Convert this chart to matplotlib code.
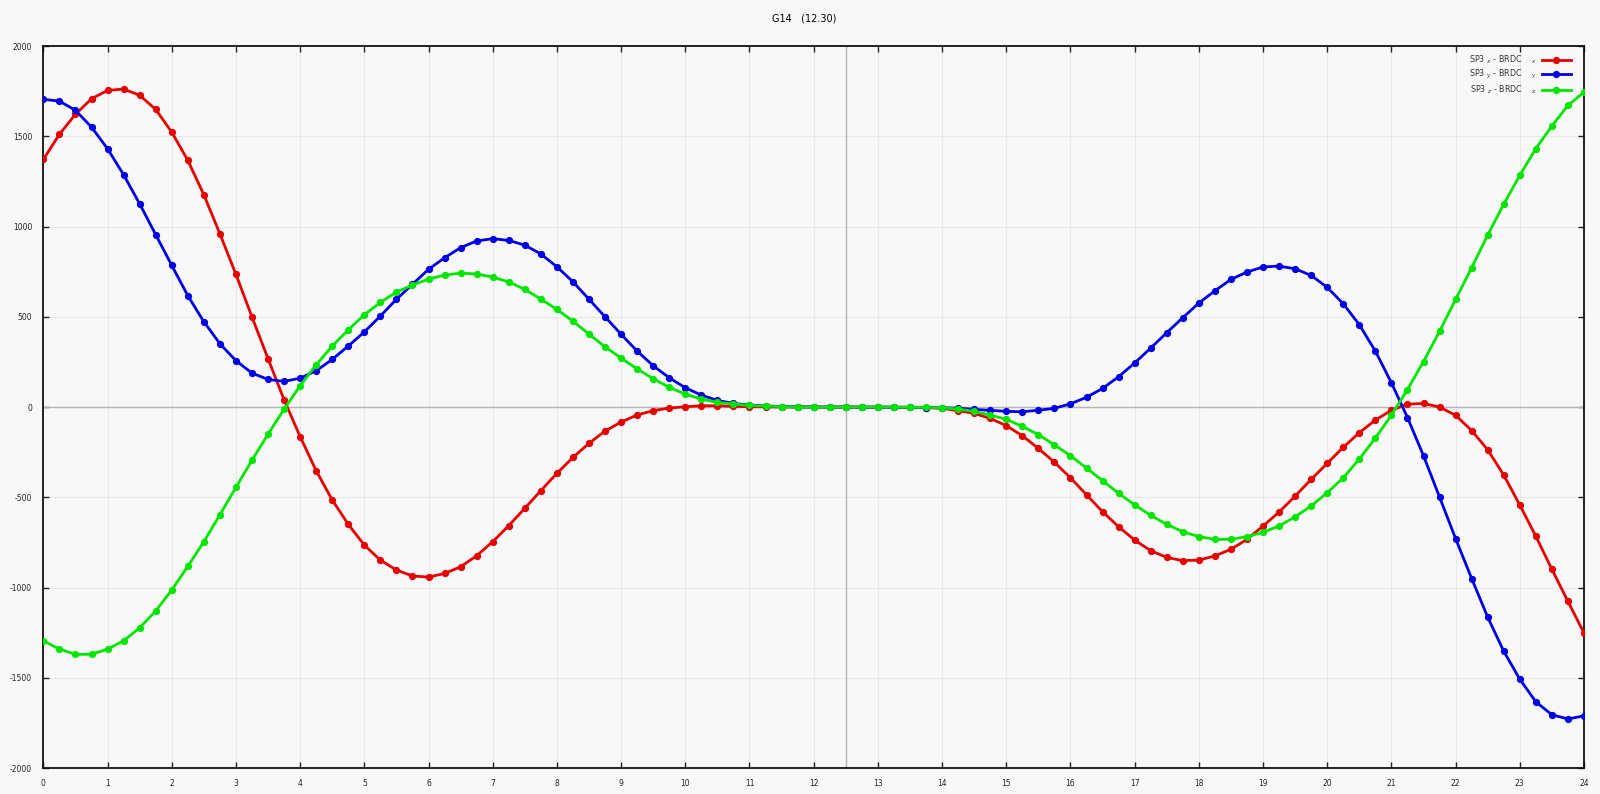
import numpy as np
import matplotlib
matplotlib.use("Agg")
import matplotlib.pyplot as plt

plt.rcParams["axes.unicode_minus"] = False

# hours of day, sampled every 15 min
hours = np.arange(0, 24.01, 0.25)

# SP3 - BRDC differences (m)
dx = [1372, 1511, 1622, 1708, 1754, 1762, 1727, 1649, 1523, 1367, 1176, 960,
      735, 499, 268, 40, -164, -353, -515, -650, -765, -848, -903, -936,
      -942, -922, -885, -824, -746, -657, -561, -463, -367, -279, -201, -133,
      -83, -44, -20, -6, 2, 7, 7, 4, 2, 1, 0, 0,
      0, 0, 0, 0, 0, -1, -1, -3, -7, -20, -35, -63,
      -103, -159, -229, -306, -392, -486, -580, -663, -737, -796, -833, -851,
      -848, -825, -788, -733, -659, -582, -493, -401, -312, -223, -142, -72,
      -18, 16, 20, 0, -46, -130, -237, -377, -543, -716, -899, -1077, -1252]

dy = [1705, 1695, 1644, 1551, 1431, 1287, 1126, 955, 785, 617, 473, 351,
      257, 188, 153, 142, 160, 201, 264, 338, 416, 504, 597, 680,
      763, 827, 883, 920, 933, 923, 897, 848, 777, 694, 597, 500,
      403, 310, 229, 162, 107, 66, 37, 20, 11, 6, 3, 1,
      0, 0, 0, -1, -1, -1, -2, -3, -4, -6, -13, -18,
      -24, -26, -18, -7, 18, 54, 103, 168, 244, 327, 412, 495,
      576, 644, 707, 748, 776, 781, 766, 729, 663, 572, 456, 310,
      134, -58, -270, -499, -729, -950, -1164, -1353, -1508, -1633, -1705, -1728, -1711]

dz = [-1295, -1341, -1370, -1370, -1341, -1295, -1223, -1130, -1014, -883, -746, -597,
      -445, -294, -150, -12, 118, 234, 338, 428, 511, 580, 637, 676,
      709, 731, 742, 737, 720, 693, 652, 598, 541, 476, 404, 334,
      271, 211, 157, 109, 72, 44, 26, 17, 9, 5, 2, 0,
      -1, -1, 0, 0, 0, -1, -1, -2, -4, -11, -24, -44,
      -68, -107, -153, -209, -270, -338, -408, -478, -542, -600, -650, -691,
      -718, -733, -733, -718, -694, -659, -608, -548, -475, -392, -288, -172,
      -45, 97, 252, 420, 596, 772, 953, 1124, 1284, 1432, 1557, 1671, 1745]

labels = [r"SP3 ${}_{x}$ - BRDC    ${}_{x}$",
          r"SP3 ${}_{y}$ - BRDC    ${}_{y}$",
          r"SP3 ${}_{z}$ - BRDC    ${}_{z}$"]
colors = ["#e60000", "#0000e6", "#00e600"]
title = "G14   (12.30)"
bg = "#f8f8f8"

fig = plt.figure(figsize=(16, 7.94), dpi=100, facecolor=bg)
ax = fig.add_axes([0.0271, 0.0327, 0.9629, 0.9093], facecolor=bg)

ax.axhline(0, color="#b4b4b4", lw=1.0, zorder=1)
ax.axvline(12.5, color="#b4b4b4", lw=1.0, zorder=1)

for vals, lab, col in zip([dx, dy, dz], labels, colors):
    ax.plot(hours, vals, color=col, lw=2.0, marker="o", ms=4.2,
            label=lab, zorder=3)

ax.set_xlim(0, 24)
ax.set_ylim(-2000, 2000)
ax.set_xticks(range(0, 25))
ax.set_yticks(range(-2000, 2001, 500))
ax.grid(True, color="#e8e8e8", lw=0.8, ls="-", zorder=0)
ax.set_axisbelow(True)
ax.tick_params(direction="in", length=4, width=1, labelsize=5.5,
               top=True, right=True, pad=8, colors="#222222")
for s in ax.spines.values():
    s.set_linewidth(1.3)
    s.set_color("#111111")

ax.set_title(title, fontsize=7, pad=18, x=0.494)

leg = ax.legend(loc="upper right", bbox_to_anchor=(0.995, 0.997),
                frameon=False, markerfirst=False, fontsize=5.8, numpoints=1,
                handlelength=3.6, labelspacing=0.25, handletextpad=0.6,
                borderpad=0.2)
for t in leg.get_texts():
    t.set_color("#333333")

fig.savefig("out.png", dpi=100, facecolor=bg)
